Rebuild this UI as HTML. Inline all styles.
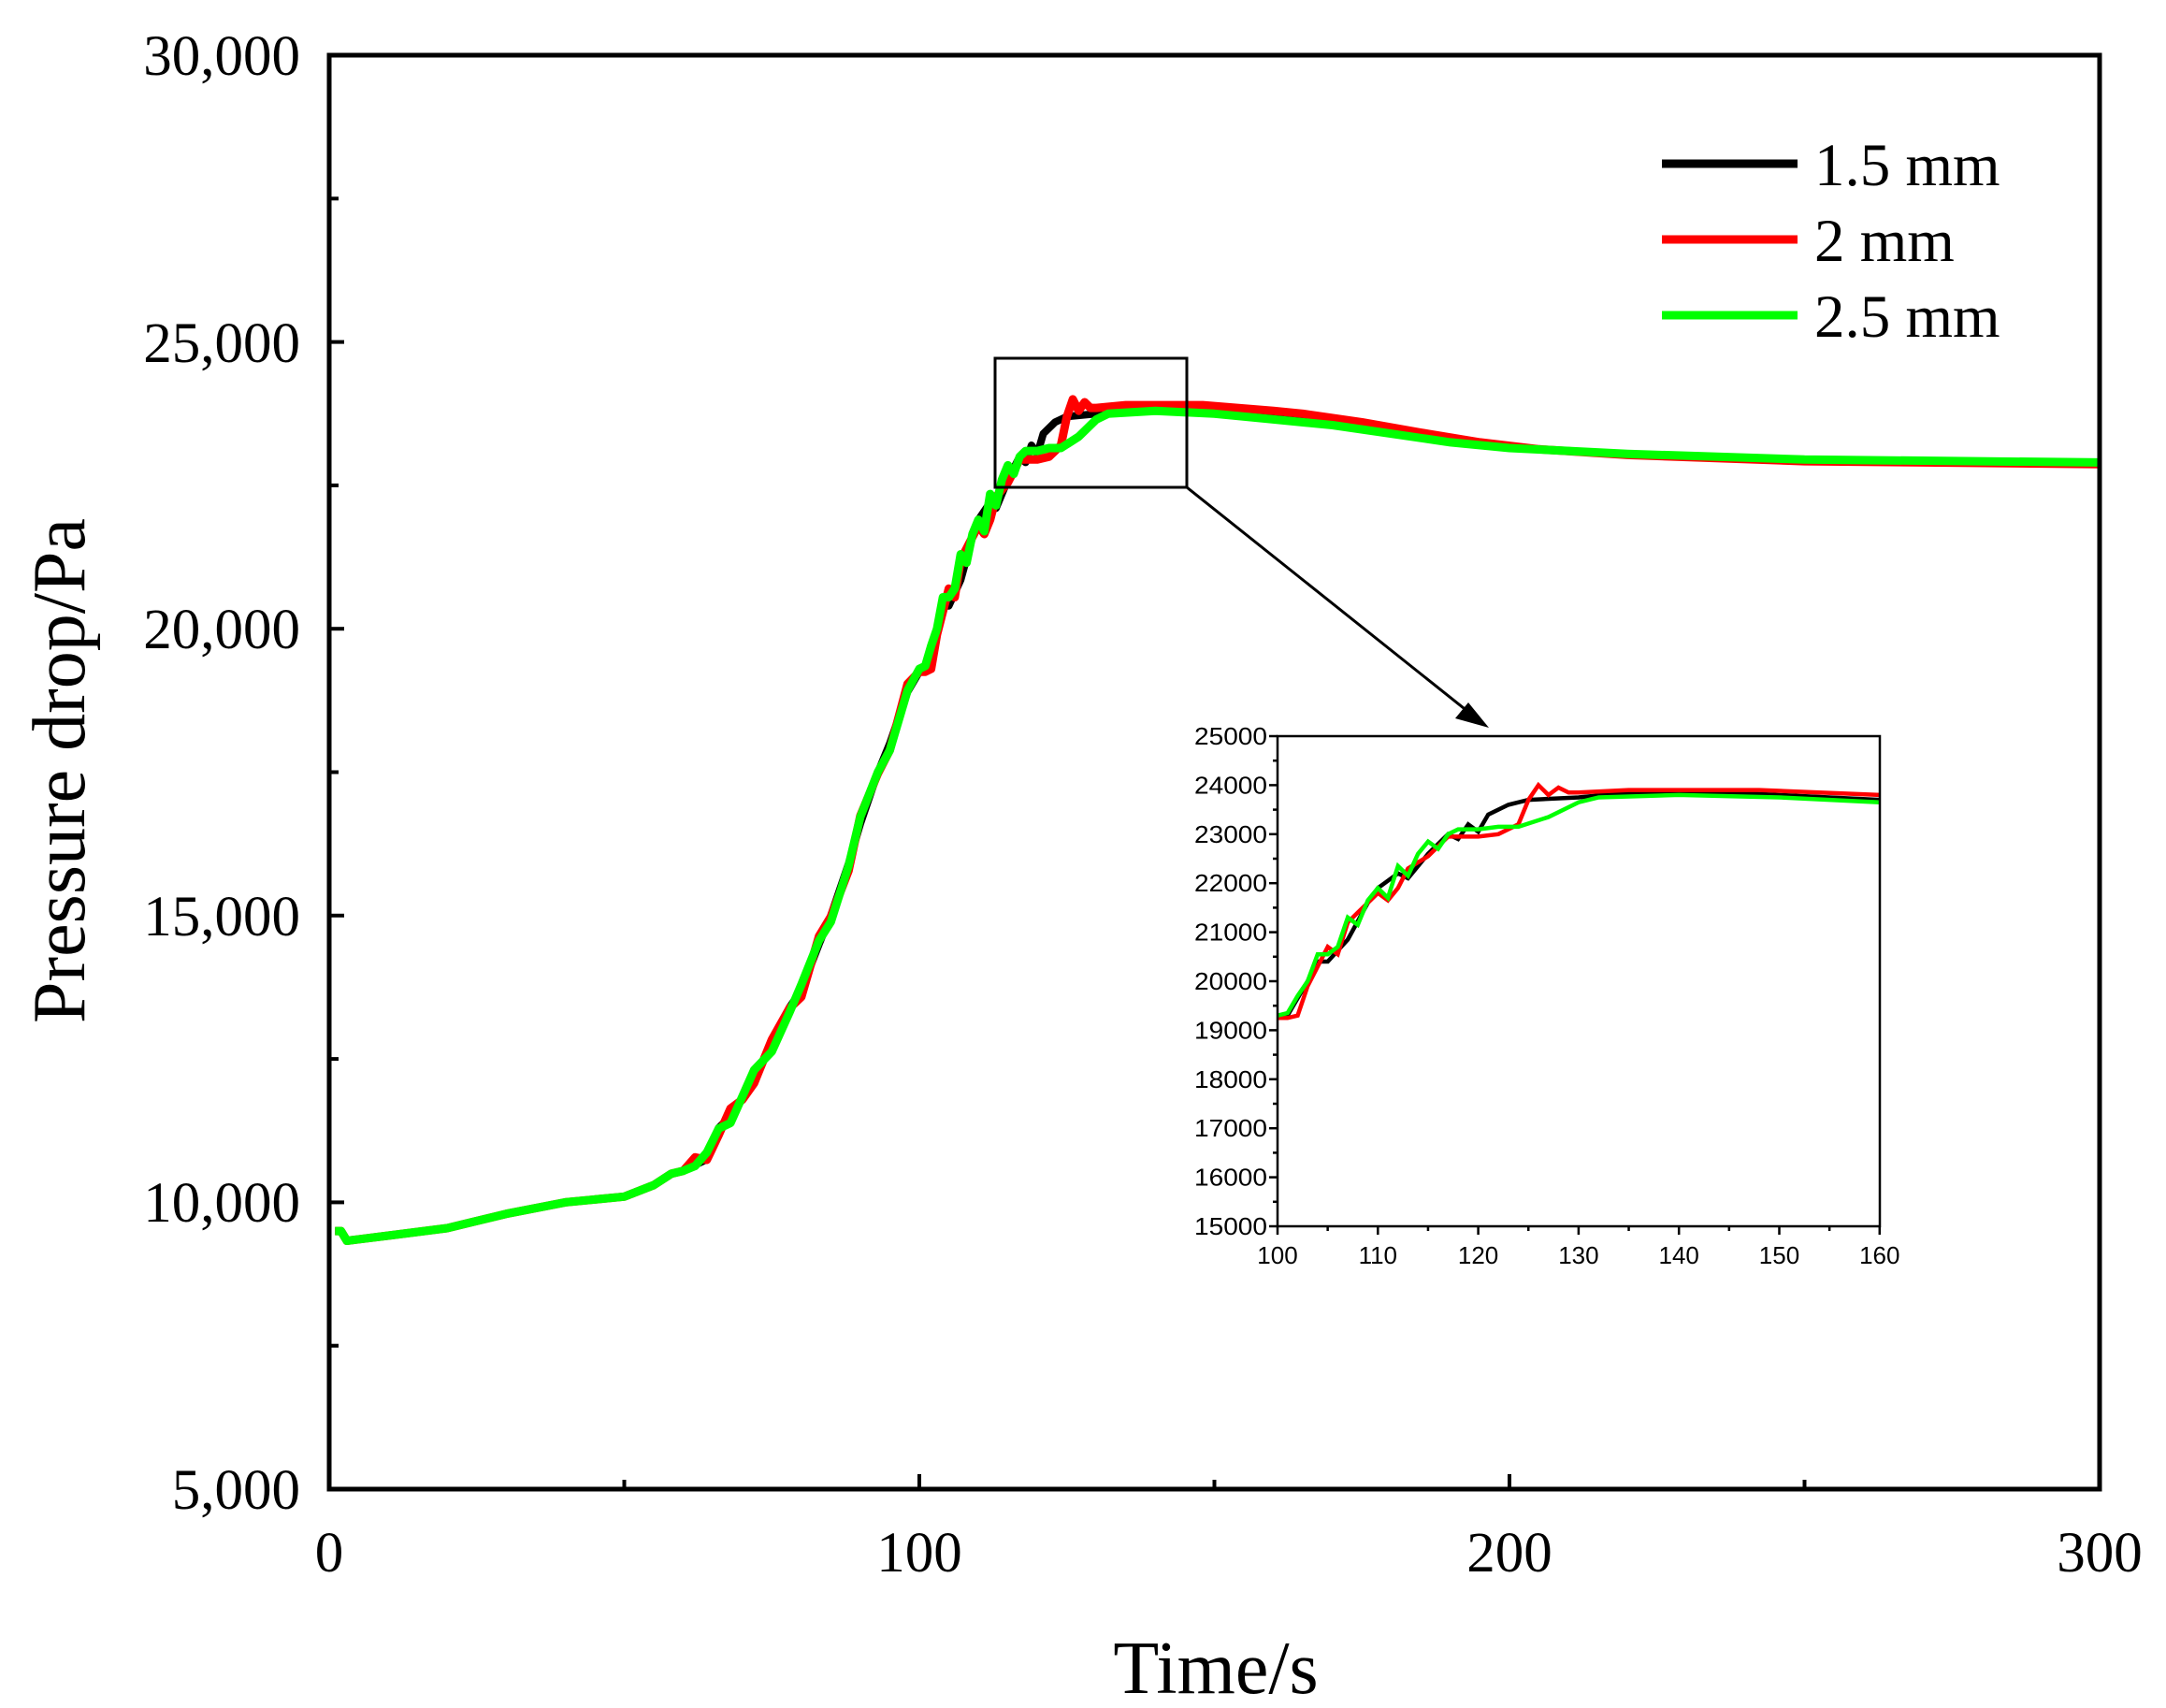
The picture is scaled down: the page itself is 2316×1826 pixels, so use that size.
<!DOCTYPE html>
<html><head><meta charset="utf-8"><style>
html,body{margin:0;padding:0;background:#fff}
svg{display:block}
.t{font-family:"Liberation Serif",serif;fill:#000}
.s{font-family:"Liberation Sans",sans-serif;fill:#000}
</style></head><body>
<svg id="g" width="2316" height="1826" viewBox="0 0 2316 1826" xmlns="http://www.w3.org/2000/svg">
<rect width="2316" height="1826" fill="#fff"/>
<g id="main"></g>
<rect x="352" y="59" width="1893" height="1533" fill="none" stroke="#000" stroke-width="5"/>
<g class="t" font-size="61" text-anchor="end">
<text x="321" y="80">30,000</text>
<text x="321" y="387">25,000</text>
<text x="321" y="693">20,000</text>
<text x="321" y="1000">15,000</text>
<text x="321" y="1306">10,000</text>
<text x="321" y="1613">5,000</text>
</g>
<g class="t" font-size="61" text-anchor="middle">
<text x="352" y="1680">0</text>
<text x="983" y="1680">100</text>
<text x="1614" y="1680">200</text>
<text x="2245" y="1680">300</text>
</g>
<text class="t" font-size="80" x="1300" y="1810" text-anchor="middle">Time/s</text>
<text class="t" font-size="80" transform="translate(90,824) rotate(-90)" text-anchor="middle">Pressure drop/Pa</text>
<g stroke-width="9">
<line x1="1777" y1="175" x2="1922" y2="175" stroke="#000"/>
<line x1="1777" y1="256" x2="1922" y2="256" stroke="#f00"/>
<line x1="1777" y1="337" x2="1922" y2="337" stroke="#0f0"/>
</g>
<g class="t" font-size="65">
<text x="1940" y="198">1.5 mm</text>
<text x="1940" y="279">2 mm</text>
<text x="1940" y="360">2.5 mm</text>
</g>
<rect x="1064" y="383" width="205" height="138" fill="none" stroke="#000" stroke-width="3"/>
<line x1="1269" y1="521" x2="1575" y2="765" stroke="#000" stroke-width="3"/>
<polygon points="1592,778 1556,768 1570,751" fill="#000"/>
<g id="inset"></g>
<rect x="1366" y="787" width="644" height="524" fill="none" stroke="#000" stroke-width="2.5"/>
<g id="iticks" stroke="#000" stroke-width="2.5"></g>
<g id="ilabels" class="s" font-size="26"></g>
</svg>
<script>
const NS="http://www.w3.org/2000/svg";
function el(p,tag,a){const e=document.createElementNS(NS,tag);for(const k in a)e.setAttribute(k,a[k]);p.appendChild(e);return e;}
const MX=t=>352+t*6.31, MY=p=>59+(30000-p)*0.06132;
const IX=t=>1366+(t-100)*10.73, IY=p=>787+(25000-p)*0.0524;
const green=[[100,19300],[101,19350],[102,19700],[103,20000],[104,20550],[105,20550],[106,20700],[107,21300],[108,21150],[109,21650],[110,21900],[111,21700],[112,22350],[113,22150],[114,22600],[115,22850],[116,22700],[117,23000],[118,23100],[120,23100],[122,23150],[124,23150],[127,23350],[130,23650],[132,23750],[140,23800],[150,23750],[160,23650]];
const red=[[100,19250],[101,19250],[102,19300],[103,19900],[104,20300],[105,20700],[106,20550],[107,21200],[108,21400],[110,21800],[111,21650],[112,21900],[113,22300],[115,22550],[117,22950],[120,22950],[122,23000],[124,23200],[125,23700],[126,24000],[127,23800],[128,23950],[129,23850],[130,23850],[135,23900],[148,23900],[160,23800]];
const black=[[100,19250],[101,19300],[103,20000],[104,20400],[105,20400],[107,20850],[109,21600],[110,21900],[112,22200],[113,22100],[115,22600],[117,23000],[118,22900],[119,23200],[120,23050],[121,23400],[123,23600],[125,23700],[130,23750],[135,23850],[145,23850],[160,23700]];
const pre=[[1,9500],[2,9500],[3,9330],[10,9420],[20,9550],[30,9800],[40,10000],[50,10100],[55,10300],[58,10500],[60,10550],[62,10650],[64,10750],[66,11300],[68,11500],[70,11800],[72,12200],[75,12700],[78,13400],[80,13700],[83,14500],[85,15000],[88,15900],[90,16600],[93,17500],[95,18000],[98,18900]];
const post=[[170,23550],[180,23400],[190,23250],[200,23150],[220,23050],[250,22950],[300,22900]];
function jit(arr,a,s){return arr.map(([t,p],i)=>[t,p+(t>60&&t<100?a*Math.sin(i*s):0)]);}
function path(pts,fx,fy){return pts.map((q,i)=>(i?'L':'M')+fx(q[0]).toFixed(1)+' '+fy(q[1]).toFixed(1)).join(' ');}
const m=document.getElementById('main');
const redPost=[[165,23750],[175,23600],[185,23420],[195,23250],[205,23130],[220,23030],[250,22920],[300,22870]];
el(m,'path',{d:path(pre.concat(black),MX,MY)+path(post,MX,MY).replace('M','L'),fill:'none',stroke:'#000','stroke-width':8,'stroke-linejoin':'round'});
el(m,'path',{d:path(jit(pre,-150,2.1).concat(red),MX,MY)+path(redPost,MX,MY).replace('M','L'),fill:'none',stroke:'#f00','stroke-width':9,'stroke-linejoin':'round'});
el(m,'path',{d:path(jit(pre,120,1.7).concat(green),MX,MY)+path(post,MX,MY).replace('M','L'),fill:'none',stroke:'#0f0','stroke-width':9,'stroke-linejoin':'round'});
const tk=[];
[7500,10000,12500,15000,17500,20000,22500,25000,27500].forEach(p=>tk.push([352,MY(p),352+(p%5000?10:16),MY(p)]));
[50,100,150,200,250].forEach(t=>tk.push([MX(t),1592,MX(t),1592-(t%100?10:16)]));
tk.forEach(a=>el(m,'line',{x1:a[0],y1:a[1],x2:a[2],y2:a[3],stroke:'#000','stroke-width':4}));
const ins=document.getElementById('inset');
el(ins,'path',{d:path(black,IX,IY),fill:'none',stroke:'#000','stroke-width':4.5});
el(ins,'path',{d:path(red,IX,IY),fill:'none',stroke:'#f00','stroke-width':4.5});
el(ins,'path',{d:path(green,IX,IY),fill:'none',stroke:'#0f0','stroke-width':4.5});
const it=document.getElementById('iticks'), il=document.getElementById('ilabels');
for(let p=15000;p<=25000;p+=500){const y=IY(p);el(it,'line',{x1:1366,y1:y,x2:1366-(p%1000?5:9),y2:y});
 if(p%1000==0){const t=el(il,'text',{x:1355,y:y+9,'text-anchor':'end',textLength:78,lengthAdjust:'spacingAndGlyphs'});t.textContent=p;}}
for(let t=100;t<=160;t+=5){const x=IX(t);el(it,'line',{x1:x,y1:1311,x2:x,y2:1311+(t%10?5:9)});
 if(t%10==0){const e=el(il,'text',{x:x,y:1351,'text-anchor':'middle'});e.textContent=t;}}
</script>
</body></html>
